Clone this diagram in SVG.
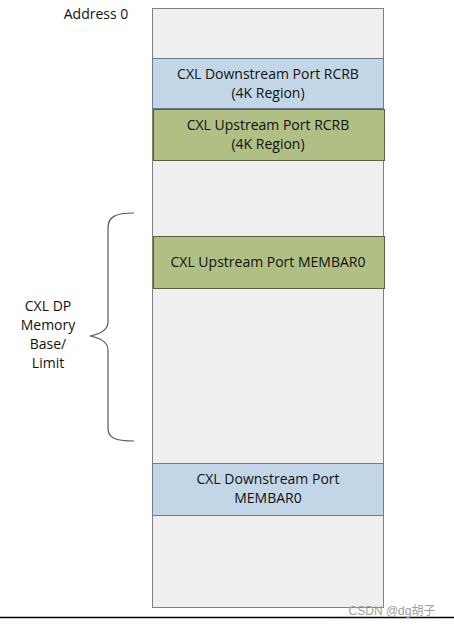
<svg xmlns="http://www.w3.org/2000/svg" width="454" height="628" viewBox="0 0 454 628">
<style>
text{font-family:"Open Sans","Liberation Sans",sans-serif;font-size:14px;fill:#111111;text-anchor:middle}
.blue{fill:#c3d6e8;stroke:#6d7b88;stroke-width:1}
.green{fill:#b0bf83;stroke:#5a6340;stroke-width:1}
</style>
<rect width="454" height="628" fill="#ffffff"/>
<g id="memory">
<rect x="152.5" y="8.5" width="231" height="599" fill="#efefef" stroke="#808080"/>
</g>
<g id="addr0"><text x="96" y="19">Address 0</text></g>
<g id="ds-rcrb">
<rect class="blue" x="152.5" y="58.5" width="231" height="50"/>
<text x="268" y="79">CXL Downstream Port RCRB</text>
<text x="268" y="98">(4K Region)</text>
</g>
<g id="us-rcrb">
<rect class="green" x="153.5" y="109.5" width="231" height="51"/>
<text x="268" y="130">CXL Upstream Port RCRB</text>
<text x="268" y="149">(4K Region)</text>
</g>
<g id="us-membar">
<rect class="green" x="153.5" y="236.5" width="231" height="52"/>
<text x="268" y="267">CXL Upstream Port MEMBAR0</text>
</g>
<g id="ds-membar">
<rect class="blue" x="152.5" y="463.5" width="231" height="52"/>
<text x="268" y="484">CXL Downstream Port</text>
<text x="268" y="503">MEMBAR0</text>
</g>
<g id="connectors">
<path d="M134,213 C115,213 108,217 108,228 L108,322 C108,330 100,334 90,336 C100,338 108,342 108,350 L108,428 C108,438 115,441 134,441" fill="none" stroke="#595959" stroke-width="1.2"/>
</g>
<g id="label">
<text x="48" y="311">CXL DP</text>
<text x="48" y="330">Memory</text>
<text x="48" y="349">Base/</text>
<text x="48" y="368">Limit</text>
</g>
<line x1="0" y1="617.5" x2="454" y2="617.5" stroke="#000" stroke-width="1.5"/>
<text x="392" y="615" style="font-size:12px;fill:#a0a0a0;font-family:'Liberation Sans','Noto Sans CJK SC',sans-serif">CSDN @dg胡子</text>
</svg>
